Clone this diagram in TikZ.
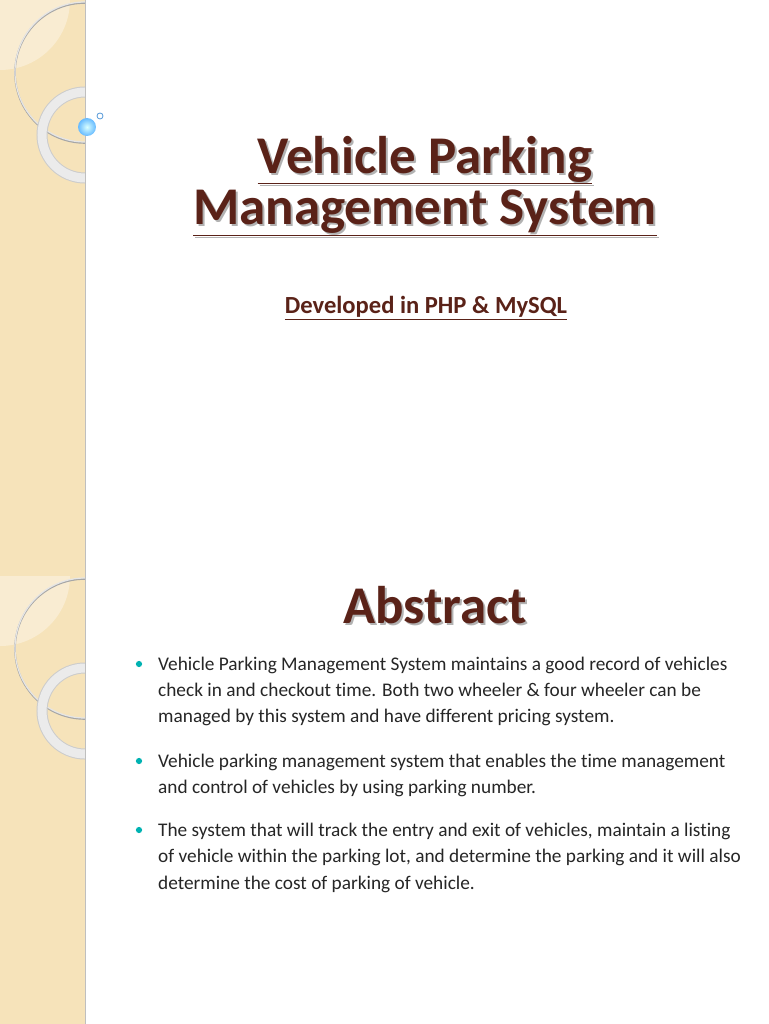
\documentclass[tikz,border=0pt]{standalone}
\usepackage{fontspec}
\setmainfont[Ligatures=NoCommon]{Carlito}
\begin{document}
\begin{tikzpicture}[x=1pt,y=-1pt,
  ttl/.style={font=\bfseries\fontsize{53}{58}\selectfont,text=brn,inner sep=0},
  shd/.style={font=\bfseries\fontsize{53}{58}\selectfont,text=black!30,inner sep=0},
  body/.style={font=\fontsize{19.3}{22}\selectfont,anchor=base west,inner sep=0,text=black!85},
  dot/.style={fill=teal!60!cyan,circle,inner sep=2.2pt}]
\definecolor{brn}{HTML}{5A2218}
\definecolor{band}{HTML}{F6E3BA}
\useasboundingbox (0,0) rectangle (768,1024);
\fill[white] (0,0) rectangle (768,1024);
\foreach \o in {0,576}{
 \begin{scope}[yshift=-\o]
  \fill[band] (0,0) rectangle (85,576);
  \begin{scope}
   \clip (0,0) rectangle (85,576);
   \fill[white,opacity=0.35] (0,0) circle (70);
   \draw[black!35,line width=1.6] (85,73) circle (70);
   \draw[white!90!black,line width=1.2] (85,72) circle (70);
   \draw[gray!40,line width=11] (85,135) circle (43);
   \draw[white!92!black,line width=9] (85,135) circle (43);
  \end{scope}
  \draw[black!25,line width=1] (85.5,0) -- (85.5,576);
 \end{scope}}
\shade[inner color=cyan!15,outer color=cyan!55!blue!60] (87,127) circle (9);
\draw[cyan!60!blue!70,line width=0.8] (100,116) circle (3);
\node[shd] at (427,162) {\underline{Vehicle Parking}};
\node[shd] at (427,215) {\underline{Management System}};
\node[shd] at (437,607) {Abstract};
\node[ttl] (t1) at (425,160) {\underline{Vehicle Parking}};
\node[ttl] (t2) at (425,213) {\underline{Management System}};
\node[font=\bfseries\fontsize{24.6}{28}\selectfont,text=brn] (sub) at (426,308) {\underline{Developed in PHP \& MySQL}};
\node[ttl] (abs) at (435,605) {Abstract};
\node[dot] (b1) at (139,664) {};
\node[dot] (b2) at (139,761) {};
\node[dot] (b3) at (139,830) {};
\node[body] (l1) at (158,670) {Vehicle Parking Management System maintains a good record of vehicles};
\node[body] (l2) at (158,696) {check in and checkout time. Both two wheeler \& four wheeler can be};
\node[body] (l3) at (158,722) {managed by this system and have different pricing system.};
\node[body] (l4) at (158,767) {Vehicle parking management system that enables the time management};
\node[body] (l5) at (158,793) {and control of vehicles by using parking number.};
\node[body] (l6) at (158,836) {The system that will track the entry and exit of vehicles, maintain a listing};
\node[body] (l7) at (158,862) {of vehicle within the parking lot, and determine the parking and it will also};
\node[body] (l8) at (158,889) {determine the cost of parking of vehicle.};
\end{tikzpicture}
\end{document}
